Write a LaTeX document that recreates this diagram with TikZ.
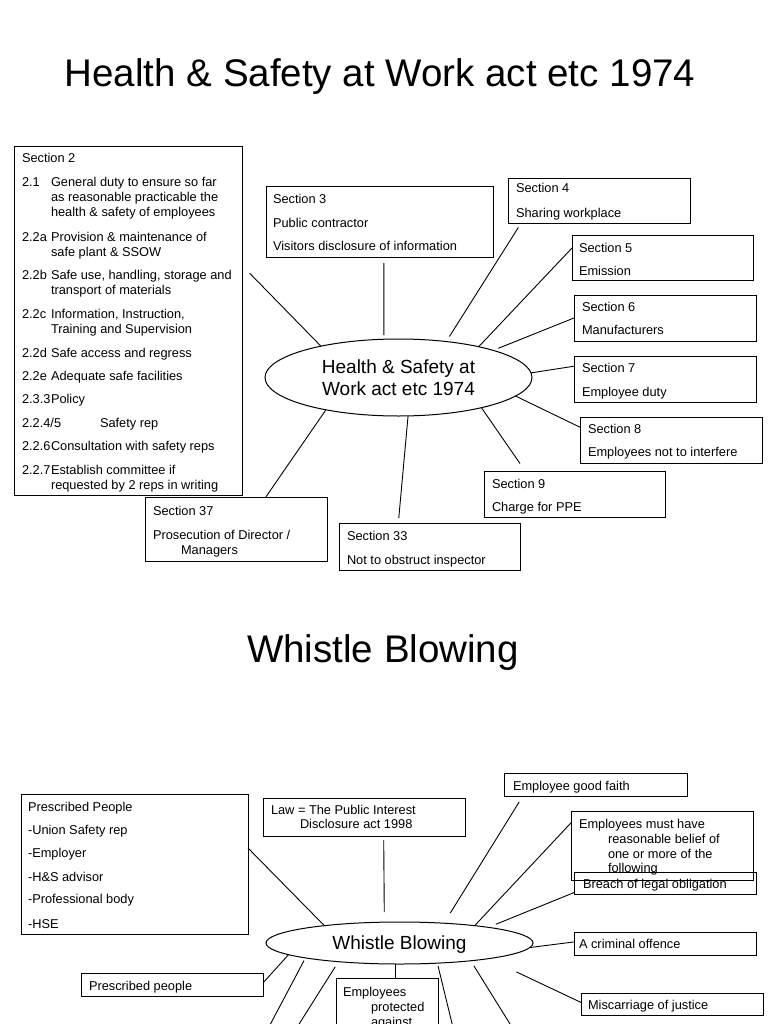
\documentclass[tikz,border=0pt]{standalone}
\usepackage{fontspec}
\setmainfont{Liberation Sans}
\usetikzlibrary{shapes.geometric}
\begin{document}
\begin{tikzpicture}[x=1pt,y=-1pt,
  box/.style={draw=black,line width=1pt,rectangle,inner sep=0pt,outer sep=0pt,anchor=north west},
  txt/.style={anchor=base west,inner sep=0pt,outer sep=0pt,font=\fontsize{12.8}{15}\selectfont},
  conn/.style={draw=black,line width=0.9pt},
  oval/.style={draw=black,line width=1pt,ellipse,inner sep=0pt,outer sep=0pt,align=center,font=\fontsize{19}{22}\selectfont},
  bigtitle/.style={inner sep=0pt,anchor=base,font=\fontsize{38.5}{44}\selectfont}]
\useasboundingbox (0,0) rectangle (768,1024);
\fill[white] (0,0) rectangle (768,1024);
\clip (0,0) rectangle (768,1024);

% ---------- titles ----------
\node[bigtitle] (title1) at (380,87) {Health \& Safety at Work act etc 1974};
\node[bigtitle] (title2) at (383,662) {Whistle Blowing};

% ---------- top part ----------
\node[oval,minimum width=267pt,minimum height=77pt] (hsw) at (398.5,377.5) {Health \& Safety at\\Work act etc 1974};

\node[box,minimum width=228pt,minimum height=348pt] (s2) at (14,147) {};
\node[box,minimum width=227pt,minimum height=70pt] (s3) at (266,187) {};
\node[box,minimum width=182pt,minimum height=45pt] (s4) at (508,179) {};
\node[box,minimum width=181pt,minimum height=45pt] (s5) at (572,235) {};
\node[box,minimum width=182pt,minimum height=46pt] (s6) at (574,295) {};
\node[box,minimum width=182pt,minimum height=46pt] (s7) at (574,356) {};
\node[box,minimum width=182pt,minimum height=46pt] (s8) at (580,417) {};
\node[box,minimum width=181pt,minimum height=46pt] (s9) at (484,471) {};
\node[box,minimum width=181pt,minimum height=47pt] (s33) at (339,523) {};
\node[box,minimum width=182pt,minimum height=64pt] (s37) at (145,497) {};

% Section 2 text
\node[txt] (t2a) at (22,163) {Section 2};
\node[txt] (t2b) at (22,187) {2.1};
\node[txt] (t2c) at (51,187) {General duty to ensure so far};
\node[txt] (t2d) at (51,202) {as reasonable practicable the};
\node[txt] (t2e) at (51,217) {health \& safety of employees};
\node[txt] (t2f) at (22,241) {2.2a};
\node[txt] (t2g) at (51,241) {Provision \& maintenance of};
\node[txt] (t2h) at (51,256) {safe plant \& SSOW};
\node[txt] (t2i) at (22,279) {2.2b};
\node[txt] (t2j) at (51,279) {Safe use, handling, storage and};
\node[txt] (t2k) at (51,294) {transport of materials};
\node[txt] (t2l) at (22,318) {2.2c};
\node[txt] (t2m) at (51,318) {Information, Instruction,};
\node[txt] (t2n) at (51,333) {Training and Supervision};
\node[txt] (t2o) at (22,357) {2.2d};
\node[txt] (t2p) at (51,357) {Safe access and regress};
\node[txt] (t2q) at (22,380) {2.2e};
\node[txt] (t2r) at (51,380) {Adequate safe facilities};
\node[txt] (t2s) at (22,403) {2.3.3};
\node[txt] (t2t) at (51,403) {Policy};
\node[txt] (t2u) at (22,427) {2.2.4/5};
\node[txt] (t2v) at (100,427) {Safety rep};
\node[txt] (t2w) at (22,450) {2.2.6};
\node[txt] (t2x) at (51,450) {Consultation with safety reps};
\node[txt] (t2y) at (22,474) {2.2.7};
\node[txt] (t2z) at (51,474) {Establish committee if};
\node[txt] (t2zz) at (51,489) {requested by 2 reps in writing};

\node[txt] (t3a) at (273,204) {Section 3};
\node[txt] (t3b) at (273,228) {Public contractor};
\node[txt] (t3c) at (273,251) {Visitors disclosure of information};
\node[txt] (t4a) at (516,193) {Section 4};
\node[txt] (t4b) at (516,218) {Sharing workplace};
\node[txt] (t5a) at (579,252) {Section 5};
\node[txt] (t5b) at (579,275) {Emission};
\node[txt] (t6a) at (582,311) {Section 6};
\node[txt] (t6b) at (582,334) {Manufacturers};
\node[txt] (t7a) at (582,372) {Section 7};
\node[txt] (t7b) at (582,396) {Employee duty};
\node[txt] (t8a) at (588,433) {Section 8};
\node[txt] (t8b) at (588,456) {Employees not to interfere};
\node[txt] (t9a) at (492,488) {Section 9};
\node[txt] (t9b) at (492,511) {Charge for PPE};
\node[txt] (t33a) at (347,540) {Section 33};
\node[txt] (t33b) at (347,564) {Not to obstruct inspector};
\node[txt] (t37a) at (153,515) {Section 37};
\node[txt] (t37b) at (153,539) {Prosecution of Director /};
\node[txt] (t37c) at (181,554) {Managers};

% top connectors
\draw[conn,shorten <=11pt] (s2.26) -- (hsw.158);
\draw[conn,shorten <=6pt,shorten >=4pt] (s3.-83) -- (hsw.111);
\draw[conn,shorten <=4pt,shorten >=6pt] (s4.-164) -- (hsw.37);
\draw[conn] (s5.174) -- (hsw.21);
\draw[conn,shorten >=5.5pt] (s6.180) -- (hsw.16);
\draw[conn] (s7.172) -- (hsw.2);
\draw[conn] (s8.172) -- (hsw.-9);
\draw[conn,shorten <=9pt] (s9.155) -- (hsw.-20);
\draw[conn,shorten <=5pt] (s33.143) -- (hsw.-76);
\draw[conn] (s37.47) -- (hsw.-156);

% ---------- bottom part ----------
\node[oval,minimum width=267pt,minimum height=42pt,text height=13.6pt,text depth=0pt] (wb) at (399.5,943) {Whistle Blowing};

\node[box,minimum width=227pt,minimum height=140pt] (pp) at (21,794) {};
\node[box,minimum width=202pt,minimum height=38pt] (law) at (263,798) {};
\node[box,minimum width=182pt,minimum height=23pt] (pps) at (81,973) {};
\node[box,minimum width=102pt,minimum height=102pt] (ep) at (336,978) {};
\node[box,minimum width=183pt,minimum height=23pt] (egf) at (504,773) {};
\node[box,minimum width=182pt,minimum height=69pt] (emh) at (571,811) {};
\node[box,minimum width=182pt,minimum height=22pt] (br) at (574,872) {};
\node[box,minimum width=182pt,minimum height=23pt] (co) at (574,932) {};
\node[box,minimum width=182pt,minimum height=22pt] (mj) at (581,993) {};

\node[txt] (tpa) at (28,811) {Prescribed People};
\node[txt] (tpb) at (28,834) {-Union Safety rep};
\node[txt] (tpc) at (28,857) {-Employer};
\node[txt] (tpd) at (28,881) {-H\&S advisor};
\node[txt] (tpe) at (28,903) {-Professional body};
\node[txt] (tpf) at (28,928) {-HSE};
\node[txt] (tla) at (271,814) {Law = The Public Interest};
\node[txt] (tlb) at (300,828) {Disclosure act 1998};
\node[txt] (tps) at (89,990) {Prescribed people};
\node[txt] (tea) at (343,996) {Employees};
\node[txt] (teb) at (371,1011) {protected};
\node[txt] (tec) at (371,1026) {against};
\node[txt] (tgf) at (513,790) {Employee good faith};
\node[txt] (tma) at (579,828) {Employees must have};
\node[txt] (tmb) at (608,843) {reasonable belief of};
\node[txt] (tmc) at (608,858) {one or more of the};
\node[txt] (tmd) at (608,872) {following};
\node[txt] (tbr) at (583,888) {Breach of legal obligation};
\node[txt] (tco) at (579,948) {A criminal offence};
\node[txt] (tmj) at (588,1009) {Miscarriage of justice};

\coordinate (o1) at (262,1040);
\coordinate (o2) at (289,1040);
\coordinate (o3) at (456,1040);
\coordinate (o4) at (520,1040);

% bottom connectors
\draw[conn] (pp.8) -- (wb.167);
\draw[conn,shorten <=4pt,shorten >=10pt] (law.-44) -- (wb.126);
\draw[conn,shorten <=7pt,shorten >=12pt] (egf.-171) -- (wb.24);
\draw[conn] (emh.166) -- (wb.13);
\draw[conn,shorten >=8pt] (br.186) -- (wb.10);
\draw[conn] (co.179) -- (wb.-2);
\draw[conn,shorten >=31pt] (mj.179) -- (wb.-10);
\draw[conn] (wb.-100) -- (wb.-100 |- ep.north);
\draw[conn] (pps.1) -- (wb.-174);
\draw[conn,shorten <=3pt] (wb.-171) -- (o1);
\draw[conn,shorten <=6pt] (wb.-163) -- (o2);
\draw[conn,shorten <=3pt] (wb.-28) -- (o3);
\draw[conn,shorten <=6pt] (wb.-14) -- (o4);
\end{tikzpicture}
\end{document}
